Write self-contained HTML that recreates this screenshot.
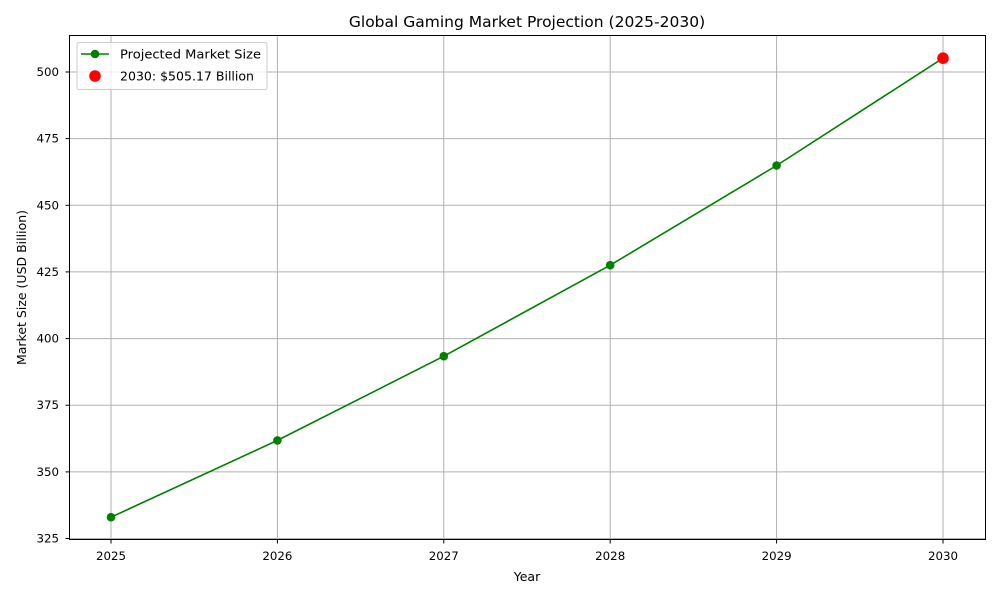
<!DOCTYPE html>
<html><head><meta charset="utf-8"><style>body{margin:0;background:#fff}svg{display:block}text{font-family:"DejaVu Sans","Liberation Sans",sans-serif;fill:#000}</style></head>
<body>
<svg width="1000" height="600" xmlns="http://www.w3.org/2000/svg">
<rect width="1000" height="600" fill="#fff"/>
<g stroke="#b0b0b0" stroke-width="1">
<line x1="111" y1="35.5" x2="111" y2="539.5"/><line x1="277.4" y1="35.5" x2="277.4" y2="539.5"/><line x1="443.8" y1="35.5" x2="443.8" y2="539.5"/><line x1="610.2" y1="35.5" x2="610.2" y2="539.5"/><line x1="776.6" y1="35.5" x2="776.6" y2="539.5"/><line x1="943" y1="35.5" x2="943" y2="539.5"/>
<line x1="69.5" y1="538.5" x2="985.5" y2="538.5"/><line x1="69.5" y1="471.9" x2="985.5" y2="471.9"/><line x1="69.5" y1="405.2" x2="985.5" y2="405.2"/><line x1="69.5" y1="338.6" x2="985.5" y2="338.6"/><line x1="69.5" y1="271.9" x2="985.5" y2="271.9"/><line x1="69.5" y1="205.3" x2="985.5" y2="205.3"/><line x1="69.5" y1="138.6" x2="985.5" y2="138.6"/><line x1="69.5" y1="72" x2="985.5" y2="72"/>
</g>
<polyline points="111,517.2 277.4,440.4 443.8,356.2 610.2,265.2 776.6,165.5 943,58.2" fill="none" stroke="#008000" stroke-width="1.6"/>
<g fill="#008000"><circle cx="111" cy="517.2" r="4.3"/><circle cx="277.4" cy="440.4" r="4.3"/><circle cx="443.8" cy="356.2" r="4.3"/><circle cx="610.2" cy="265.2" r="4.3"/><circle cx="776.6" cy="165.5" r="4.3"/><circle cx="943" cy="58.2" r="4.3"/></g>
<circle cx="943" cy="58.2" r="5.8" fill="#ff0000"/>
<rect x="69.5" y="35.5" width="916" height="504" fill="none" stroke="#000" stroke-width="1"/>
<g stroke="#000"><line x1="111" y1="539.5" x2="111" y2="543.5"/><line x1="277.4" y1="539.5" x2="277.4" y2="543.5"/><line x1="443.8" y1="539.5" x2="443.8" y2="543.5"/><line x1="610.2" y1="539.5" x2="610.2" y2="543.5"/><line x1="776.6" y1="539.5" x2="776.6" y2="543.5"/><line x1="943" y1="539.5" x2="943" y2="543.5"/>
<line x1="65.5" y1="538.5" x2="69.5" y2="538.5"/><line x1="65.5" y1="471.9" x2="69.5" y2="471.9"/><line x1="65.5" y1="405.2" x2="69.5" y2="405.2"/><line x1="65.5" y1="338.6" x2="69.5" y2="338.6"/><line x1="65.5" y1="271.9" x2="69.5" y2="271.9"/><line x1="65.5" y1="205.3" x2="69.5" y2="205.3"/><line x1="65.5" y1="138.6" x2="69.5" y2="138.6"/><line x1="65.5" y1="72" x2="69.5" y2="72"/></g>
<g font-size="11.8" text-anchor="middle"><text x="111" y="560">2025</text><text x="277.4" y="560">2026</text><text x="443.8" y="560">2027</text><text x="610.2" y="560">2028</text><text x="776.6" y="560">2029</text><text x="943" y="560">2030</text></g>
<g font-size="11.8" text-anchor="end"><text x="59" y="542.5">325</text><text x="59" y="475.9">350</text><text x="59" y="409.2">375</text><text x="59" y="342.6">400</text><text x="59" y="275.9">425</text><text x="59" y="209.3">450</text><text x="59" y="142.6">475</text><text x="59" y="76">500</text></g>
<text x="527" y="581" font-size="12.5" text-anchor="middle">Year</text>
<text transform="translate(26,287.5) rotate(-90)" font-size="12.5" text-anchor="middle">Market Size (USD Billion)</text>
<text x="527" y="27" font-size="15.5" text-anchor="middle">Global Gaming Market Projection (2025-2030)</text>
<rect x="77" y="42.5" width="190" height="47" rx="2" fill="#fff" fill-opacity="0.8" stroke="#cccccc"/>
<line x1="81" y1="54" x2="109" y2="54" stroke="#008000" stroke-width="1.6"/><circle cx="95" cy="54" r="4.3" fill="#008000"/>
<circle cx="95" cy="76" r="5.8" fill="#ff0000"/>
<text x="120" y="58.5" font-size="12.8" textLength="141" lengthAdjust="spacingAndGlyphs">Projected Market Size</text>
<text x="120" y="80.5" font-size="12.8" textLength="134" lengthAdjust="spacingAndGlyphs">2030: $505.17 Billion</text>
</svg>
</body></html>
